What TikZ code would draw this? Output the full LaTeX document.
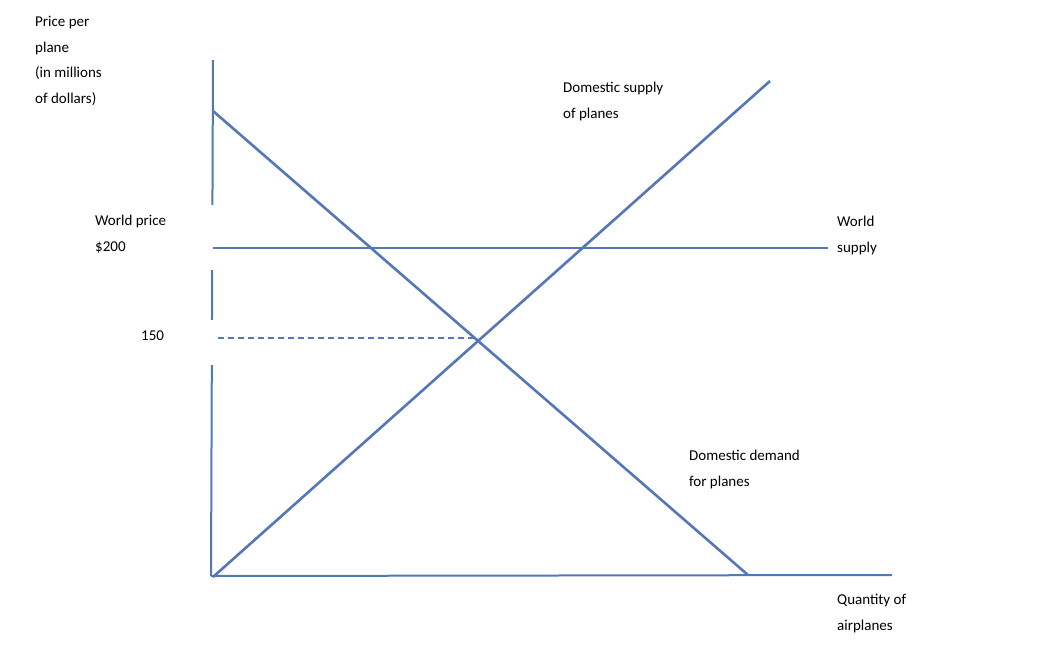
\documentclass[tikz,border=0pt]{standalone}
\usepackage{fontspec}
\setmainfont{Carlito}
\definecolor{ln}{RGB}{84,119,183}
\begin{document}
\begin{tikzpicture}[x=1pt,y=-1pt,
  curve/.style={ln,line width=2.6pt},
  lbl/.style={align=left,anchor=north west,inner sep=0pt,font=\fontsize{15}{25.5}\selectfont}]
\useasboundingbox[fill=white] (0,0) rectangle (1060,670);
\coordinate (ytop) at (213,60);
\coordinate (o) at (211,576);
\coordinate (xend) at (892,575);
\draw[curve,line width=2pt] (ytop) -- (o);
\draw[curve,line width=2pt] (o) -- (xend);
\fill[white] (208,205) rectangle (216,270);
\fill[white] (208,320) rectangle (216,365);
\coordinate (d1) at (213,111); \coordinate (d2) at (748,575);
\coordinate (s1) at (213,577); \coordinate (s2) at (770,81);
\coordinate (w1) at (213,248); \coordinate (w2) at (828,248);
\coordinate (p1) at (218,338); \coordinate (p2) at (478,338);
\draw[curve] (d1) -- (d2);
\draw[curve] (s1) -- (s2);
\draw[curve] (w1) -- (w2);
\draw[ln,line width=1.2pt,dashed,dash pattern=on 6pt off 4pt] (p1) -- (p2);
\node[lbl] (ylab) at (35,16) {Price per\\plane\\(in millions\\of dollars)};
\node[lbl] (wp) at (95,215) {World price\\\$200};
\node[lbl] (l150) at (141,331) {150};
\node[lbl] (ds) at (563,82) {Domestic supply\\of planes};
\node[lbl] (ws) at (837,216) {World\\supply};
\node[lbl] (dd) at (689,450) {Domestic demand\\for planes};
\node[lbl] (xlab) at (837,594) {Quantity of\\airplanes};
\end{tikzpicture}
\end{document}
